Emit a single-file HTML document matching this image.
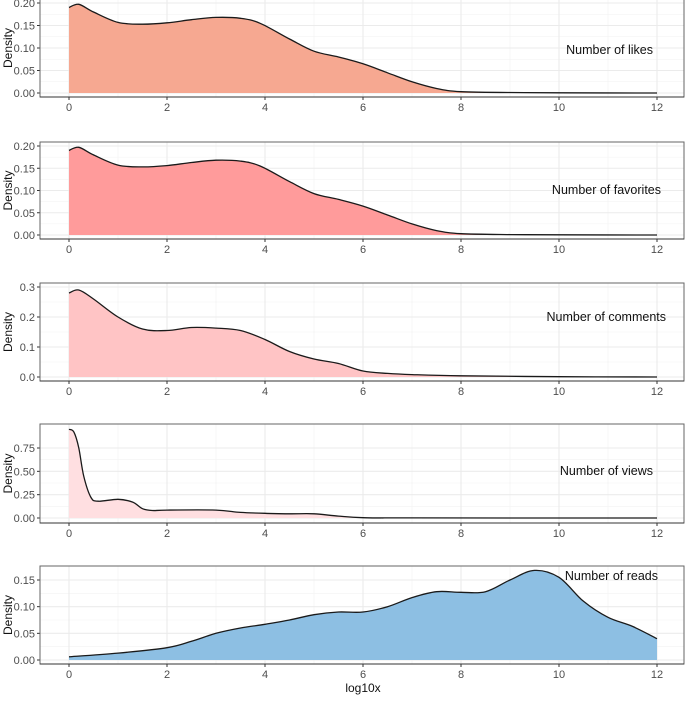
<!DOCTYPE html>
<html><head><meta charset="utf-8"><style>
body{margin:0;background:#fff;font-family:"Liberation Sans",sans-serif}
svg text{font-family:"Liberation Sans",sans-serif}
</style></head><body>
<svg id="c" width="685" height="696"></svg>
<script>
const xTicks=[0,2,4,6,8,10,12];
const likesX=[0,0.2,0.5,1,1.5,2,2.5,3,3.5,3.9,4.5,5,5.5,6,6.5,7,7.5,8,9,10,12];
const likesY=[0.19,0.197,0.18,0.157,0.153,0.156,0.163,0.168,0.166,0.155,0.12,0.093,0.08,0.065,0.045,0.025,0.01,0.003,0.001,0.0005,0];
const favX=[0,0.2,0.5,1,1.5,2,2.5,3,3.5,3.9,4.5,5,5.5,6,6.5,7,7.5,8,9,10,12];
const favY=[0.19,0.197,0.18,0.157,0.153,0.156,0.163,0.168,0.166,0.155,0.12,0.093,0.08,0.065,0.045,0.025,0.01,0.003,0.001,0.0005,0];
const comX=[0,0.2,0.5,1,1.5,2,2.5,3,3.5,4,4.5,5,5.5,6,6.5,7,8,10,12];
const comY=[0.28,0.29,0.26,0.2,0.16,0.155,0.165,0.163,0.155,0.125,0.085,0.06,0.045,0.02,0.012,0.008,0.004,0.001,0];
const viewX=[0,0.1,0.2,0.3,0.45,0.6,1,1.3,1.5,1.7,2,3,3.5,4,4.5,5,5.5,6,7,12];
const viewY=[0.95,0.92,0.75,0.45,0.22,0.18,0.2,0.17,0.1,0.08,0.085,0.085,0.06,0.05,0.045,0.045,0.02,0.003,0.001,0];
const readX=[0,1,2,2.5,3,3.5,4,4.5,5,5.5,6,6.5,7,7.5,8,8.5,9,9.5,10,10.5,11,11.5,12];
const readY=[0.006,0.013,0.023,0.035,0.05,0.06,0.067,0.075,0.085,0.09,0.09,0.1,0.117,0.128,0.127,0.128,0.15,0.168,0.155,0.11,0.08,0.063,0.04];
const panels=[
 {name:'likes',label:'Number of likes',xs:likesX,ys:likesY,top:-1,bot:97,y0:93,ymax:0.2,ytop:3,ticks:[0,0.05,0.1,0.15,0.2],fmt:2,color:'#F6A891',ly:54,lx:653},
 {name:'favorites',label:'Number of favorites',xs:favX,ys:favY,top:142,bot:239,y0:235,ymax:0.2,ytop:146,ticks:[0,0.05,0.1,0.15,0.2],fmt:2,color:'#FF9B9B',ly:194,lx:661},
 {name:'comments',label:'Number of comments',xs:comX,ys:comY,top:283,bot:381,y0:377,ymax:0.3,ytop:287,ticks:[0,0.1,0.2,0.3],fmt:1,color:'#FFC4C5',ly:321,lx:666},
 {name:'views',label:'Number of views',xs:viewX,ys:viewY,top:424,bot:523,y0:518,ymax:0.75,ytop:448,ticks:[0,0.25,0.5,0.75],fmt:2,color:'#FFDFE1',ly:475,lx:653},
 {name:'reads',label:'Number of reads',xs:readX,ys:readY,top:566,bot:664,y0:660,ymax:0.15,ytop:580,ticks:[0,0.05,0.1,0.15],fmt:2,color:'#8DBFE3',ly:580,lx:658}
];
const NS='http://www.w3.org/2000/svg';
const svg=document.getElementById('c');
function mk(t,a,p){const e=document.createElementNS(NS,t);for(const k in a)e.setAttribute(k,a[k]);(p||svg).appendChild(e);return e;}
const L=40,R=684;
const sx=v=>69+v*49;
function smooth(pts){let d='';for(let i=0;i<pts.length-1;i++){const p0=pts[Math.max(0,i-1)],p1=pts[i],p2=pts[i+1],p3=pts[Math.min(pts.length-1,i+2)];
 const c1=[p1[0]+(p2[0]-p0[0])/6,p1[1]+(p2[1]-p0[1])/6],c2=[p2[0]-(p3[0]-p1[0])/6,p2[1]-(p3[1]-p1[1])/6];
 d+=' C'+c1[0].toFixed(1)+','+c1[1].toFixed(1)+' '+c2[0].toFixed(1)+','+c2[1].toFixed(1)+' '+p2[0].toFixed(1)+','+p2[1].toFixed(1);}return d;}
panels.forEach(p=>{
 const g=mk('g',{});
 
 
 const sy=v=>p.y0-(v/p.ymax)*(p.y0-p.ytop);
 const tstep=p.ticks[1]-p.ticks[0];
 for(let i=0;i<p.ticks.length-1;i++){const yy=sy(p.ticks[i]+tstep/2);mk('line',{x1:L,x2:R,y1:yy,y2:yy,stroke:'#f2f2f2','stroke-width':0.6},g);}
 for(let i=0;i<xTicks.length;i++){const xx=sx(xTicks[i]+1);if(xx<R)mk('line',{x1:xx,x2:xx,y1:p.top,y2:p.bot,stroke:'#f2f2f2','stroke-width':0.6},g);}
 p.ticks.forEach(t=>{const yy=sy(t);mk('line',{x1:L,x2:R,y1:yy,y2:yy,stroke:'#ebebeb','stroke-width':1.1},g);
  const tx=mk('text',{x:L-5,y:yy+4,'text-anchor':'end','font-size':11,fill:'#4d4d4d'},g);tx.textContent=t.toFixed(p.fmt);
  mk('line',{x1:L-3,x2:L,y1:yy,y2:yy,stroke:'#333'},g);});
 xTicks.forEach(t=>{const xx=sx(t);mk('line',{x1:xx,x2:xx,y1:p.top,y2:p.bot,stroke:'#ebebeb','stroke-width':1.1},g);
  mk('line',{x1:xx,x2:xx,y1:p.bot,y2:p.bot+3,stroke:'#333'},g);
  const tx=mk('text',{x:xx,y:p.bot+14,'text-anchor':'middle','font-size':11,fill:'#4d4d4d'},g);tx.textContent=t;});
 const pts=p.xs.map((x,i)=>[sx(x),sy(p.ys[i])]);
 const line='M'+pts[0][0]+','+pts[0][1]+smooth(pts);
 const area=mk('path',{d:'M'+sx(p.xs[0])+','+sy(0)+' L'+pts[0][0]+','+pts[0][1]+smooth(pts)+' L'+sx(p.xs[p.xs.length-1])+','+sy(0)+'Z',fill:p.color},g);
 
 
 const ln=mk('path',{d:line,fill:'none',stroke:'#1a1a1a','stroke-width':1.3},g);
 
 
 mk('rect',{x:L,y:p.top,width:R-L,height:p.bot-p.top,fill:'none',stroke:'#666','stroke-width':1},g);
 mk('line',{x1:L,x2:R,y1:p.bot,y2:p.bot,stroke:'#333','stroke-width':1},g);
 const lb=mk('text',{x:p.lx,y:p.ly,'text-anchor':'end','font-size':12.5,fill:'#111'},g);lb.textContent=p.label;
 
 
 const yt=mk('text',{x:0,y:0,'text-anchor':'middle','font-size':12,fill:'#111',transform:'translate(12,'+((p.top+p.bot)/2)+') rotate(-90)'},g);yt.textContent='Density';
 
 
});
const xt=mk('text',{x:sx(6),y:692,'text-anchor':'middle','font-size':12,fill:'#111'});xt.textContent='log10x';


</script>
</body></html>
